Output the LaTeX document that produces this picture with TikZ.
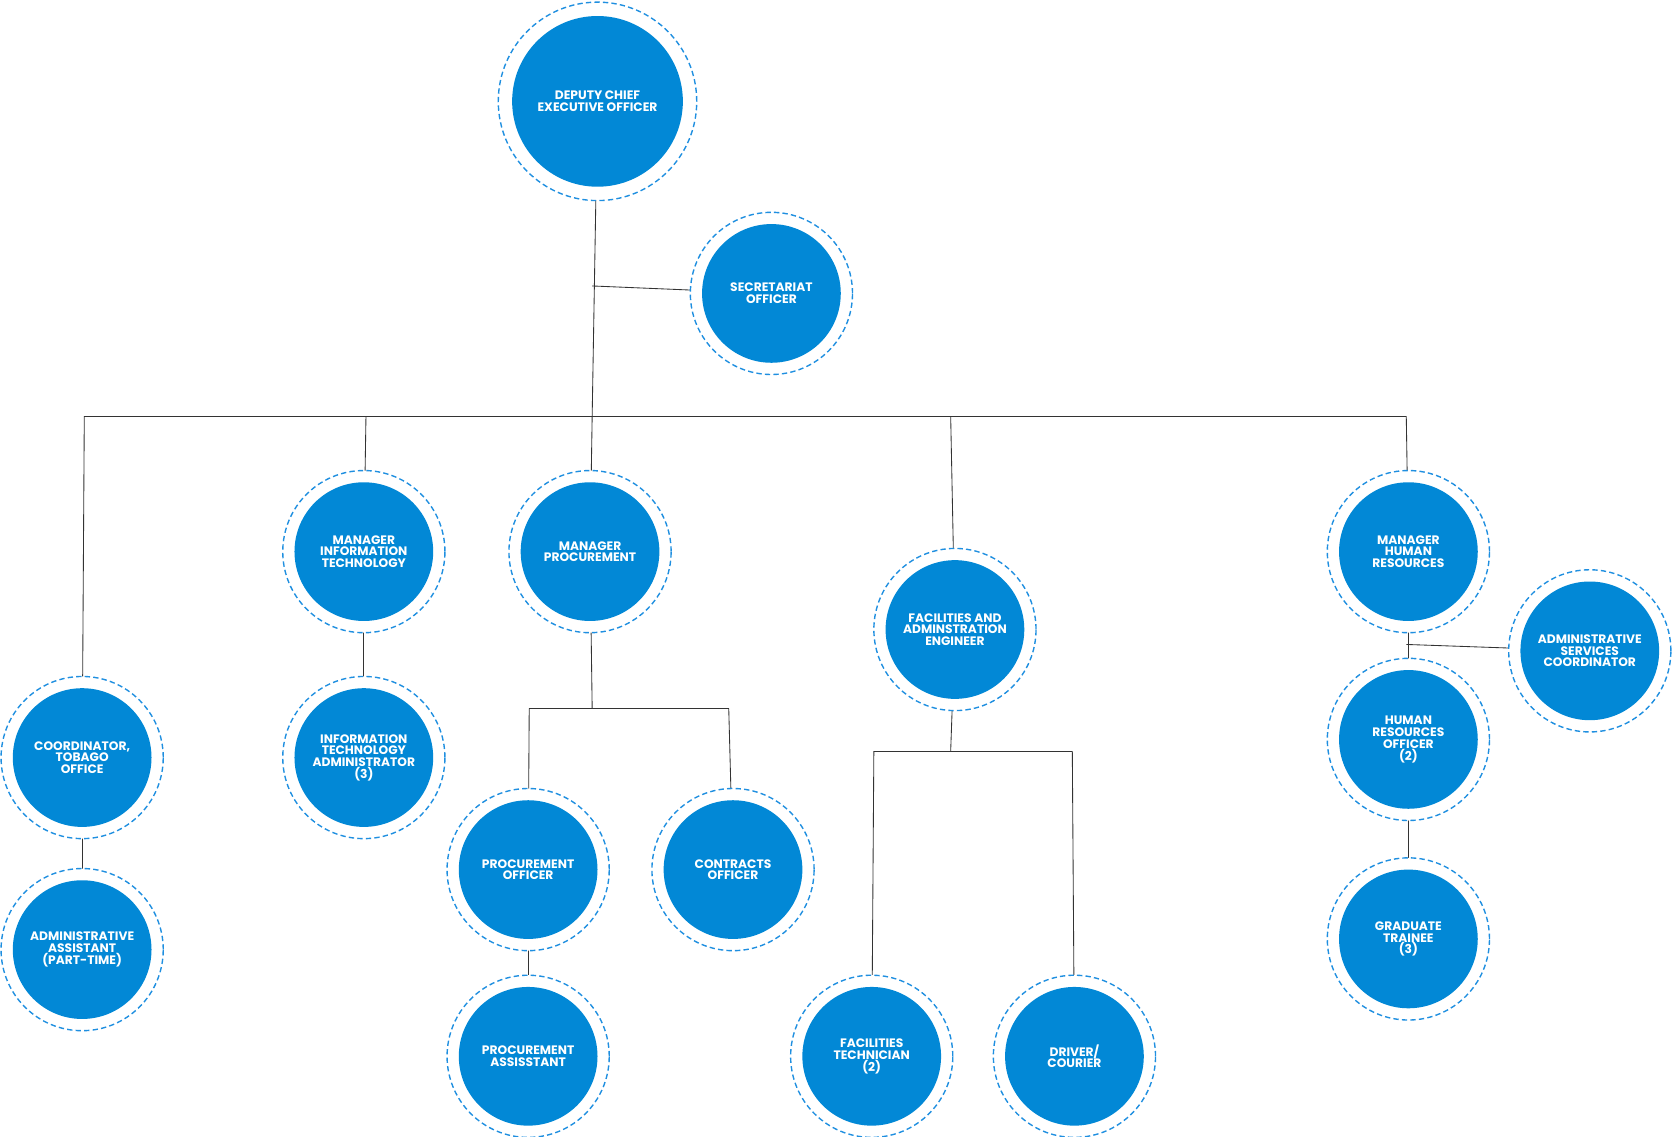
\documentclass[tikz,border=0pt]{standalone}
\usepackage{fontspec}
\setmainfont{Poppins}[BoldFont={* Bold}]
\usetikzlibrary{backgrounds}
\definecolor{cblue}{HTML}{0288D6}
\definecolor{dblue}{HTML}{1F8FE0}
\tikzset{
 outer/.style={circle,draw=dblue,dashed,line width=1.3pt,dash pattern=on 5pt off 3pt,fill=white,minimum size=#1,inner sep=0pt},
 inner/.style={circle,fill=cblue,minimum size=#1,inner sep=0pt,text=white,align=center,font=\fontsize{11.5}{11}\selectfont\bfseries},
 con/.style={draw=black!80,line width=0.8pt}
}
\newcommand\person[5]{%
 \node[outer=#4] (#1) at (#2) {};
 \node[inner=#5] (#1i) at (#2) {#3};}
\begin{document}
\begin{tikzpicture}[x=1pt,y=-1pt]
\useasboundingbox (0,0) rectangle (1568,1065);
\person{dceo}{560,95}{DEPUTY CHIEF\\EXECUTIVE OFFICER}{186}{160}
\person{sec}{723,275}{SECRETARIAT\\OFFICER}{152}{130}
\person{coord}{77,710}{COORDINATOR,\\TOBAGO\\OFFICE}{152}{130}
\person{aa}{77,890}{ADMINISTRATIVE\\ASSISTANT\\(PART-TIME)}{152}{130}
\person{mit}{341,517}{MANAGER\\INFORMATION\\TECHNOLOGY}{152}{130}
\person{ita}{341,710}{INFORMATION\\TECHNOLOGY\\ADMINISTRATOR\\(3)}{152}{130}
\person{mp}{553,517}{MANAGER\\PROCUREMENT}{152}{130}
\person{po}{495,815}{PROCUREMENT\\OFFICER}{152}{130}
\person{pa}{495,990}{PROCUREMENT\\ASSISSTANT}{152}{130}
\person{co}{687,815}{CONTRACTS\\OFFICER}{152}{130}
\person{fae}{895,590}{FACILITIES AND\\ADMINSTRATION\\ENGINEER}{152}{130}
\person{ft}{817,990}{FACILITIES\\TECHNICIAN\\(2)}{152}{130}
\person{dc}{1007,990}{DRIVER/\\COURIER}{152}{130}
\person{mhr}{1320,517}{MANAGER\\HUMAN\\RESOURCES}{152}{130}
\person{hro}{1320,693}{HUMAN\\RESOURCES\\OFFICER\\(2)}{152}{130}
\person{gt}{1320,880}{GRADUATE\\TRAINEE\\(3)}{152}{130}
\person{asc}{1490,610}{ADMINISTRATIVE\\SERVICES\\COORDINATOR}{152}{130}
\coordinate (bus) at (555,390);
\coordinate (secj) at (555,268);
\coordinate (pj) at (555,664);
\coordinate (fj) at (891,704);
\coordinate (hj) at (1318,604);
\begin{scope}[on background layer]
\draw[con] (dceo.center) -- (bus);
\draw[con] (secj) -- (sec.center);
\draw[con] (79,390) -- (1318,390);
\draw[con] (79,390) -- (coord.center);
\draw[con] (coord.center) -- (aa.center);
\draw[con] (343,390) -- (mit.center);
\draw[con] (mit.center) -- (ita.center);
\draw[con] (bus) -- (mp.center);
\draw[con] (mp.center) -- (pj);
\draw[con] (496,664) -- (683,664);
\draw[con] (496,664) -- (po.center);
\draw[con] (po.center) -- (pa.center);
\draw[con] (683,664) -- (co.center);
\draw[con] (891,390) -- (fae.center);
\draw[con] (fae.center) -- (fj);
\draw[con] (819,704) -- (1005,704);
\draw[con] (819,704) -- (ft.center);
\draw[con] (1005,704) -- (dc.center);
\draw[con] (1318,390) -- (mhr.center);
\draw[con] (mhr.center) -- (gt.center);
\draw[con] (hj) -- (asc.center);
\end{scope}
\end{tikzpicture}
\end{document}
